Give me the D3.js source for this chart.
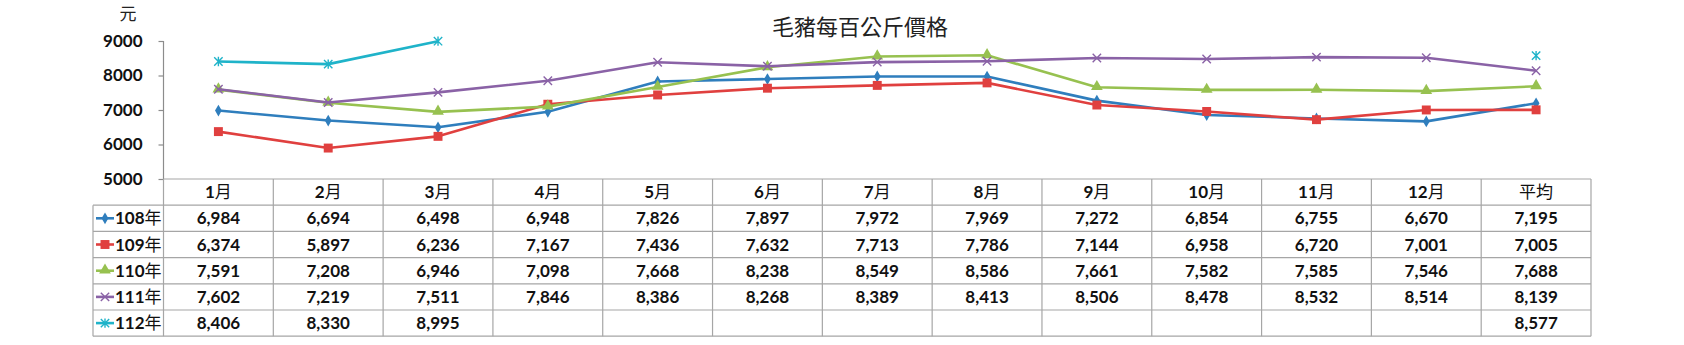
<!DOCTYPE html>
<html><head><meta charset="utf-8">
<script src="https://cdn.jsdelivr.net/npm/d3@7"></script>
<style>body{margin:0;background:#fff}</style>
</head><body>
<svg id="c" width="1684" height="345"></svg>
<script>
const categories = ["1月","2月","3月","4月","5月","6月","7月","8月","9月","10月","11月","12月","平均"];
const seriesNames = ["108年","109年","110年","111年","112年"];
const s108 = [6984,6694,6498,6948,7826,7897,7972,7969,7272,6854,6755,6670,7195];
const s109 = [6374,5897,6236,7167,7436,7632,7713,7786,7144,6958,6720,7001,7005];
const s110 = [7591,7208,6946,7098,7668,8238,8549,8586,7661,7582,7585,7546,7688];
const s111 = [7602,7219,7511,7846,8386,8268,8389,8413,8506,8478,8532,8514,8139];
const s112 = [8406,8330,8995,null,null,null,null,null,null,null,null,null,8577];
const yTicks = [5000,6000,7000,8000,9000];
const title = "毛豬每百公斤價格";
const unit = "元";

(function(){
const colors = ["#2f7ebd","#e0403f","#97c150","#8a62a6","#1fb3c9"];
const markers = ["diamond","square","triangle","x","star"];
const allSeries = [s108,s109,s110,s111,s112];

const svg = d3.select("#c");
const pLeft = 163.5, pRight = 1591, pTop = 41, pBottom = 179;
const rowH = 26.2, legendLeft = 93;
const gridColor = "#a6a6a6";
const numFont = "Lato, 'Noto Sans CJK TC', sans-serif";
const cjkFont = "'Noto Sans CJK TC', sans-serif";

const x = d3.scaleBand().domain(categories).range([pLeft, pRight]);
const y = d3.scaleLinear().domain([5000, 9000]).range([pBottom, pTop]);

svg.append("text").attr("x", 860).attr("y", 35).attr("text-anchor","middle")
  .attr("font-family", cjkFont).attr("font-size", 22).attr("fill","#222").text(title);
svg.append("text").attr("x", 128).attr("y", 20).attr("text-anchor","middle")
  .attr("font-family", cjkFont).attr("font-size", 17).attr("fill","#222").text(unit);

const yAxis = svg.append("g").attr("transform", `translate(${pLeft},0)`)
  .call(d3.axisLeft(y).tickValues(yTicks).tickSize(5).tickPadding(16).tickFormat(d3.format("d")));
yAxis.selectAll("path,line").attr("stroke", "#8c8c8c").attr("stroke-width", 1.2);
yAxis.select(".domain").attr("d", `M0,${pTop}V${pBottom}`);
yAxis.selectAll("text").attr("font-family", numFont).attr("font-weight", "bold")
  .attr("font-size", 17).attr("fill", "#111");

const tableBottom = pBottom + rowH * 6;
const g = svg.append("g").attr("stroke", gridColor).attr("stroke-width", 1.2);
g.append("line").attr("x1", pLeft).attr("x2", pRight).attr("y1", pBottom).attr("y2", pBottom);
for (let r = 1; r <= 6; r++) {
  g.append("line").attr("x1", legendLeft).attr("x2", pRight)
    .attr("y1", pBottom + r*rowH).attr("y2", pBottom + r*rowH);
}
categories.forEach(c => {
  g.append("line").attr("x1", x(c)).attr("x2", x(c)).attr("y1", pBottom).attr("y2", tableBottom);
});
g.append("line").attr("x1", pRight).attr("x2", pRight).attr("y1", pBottom).attr("y2", tableBottom);
g.append("line").attr("x1", legendLeft).attr("x2", legendLeft).attr("y1", pBottom + rowH).attr("y2", tableBottom);

function mixedText(sel, str, size) {
  const parts = str.match(/[0-9,.]+|[^0-9,.]+/g);
  parts.forEach(p => {
    const isNum = /^[0-9,.]+$/.test(p);
    sel.append("tspan").text(p)
      .attr("font-family", isNum ? numFont : cjkFont)
      .attr("font-weight", isNum ? "bold" : "normal");
  });
  sel.attr("font-size", size).attr("fill", "#111");
}

categories.forEach(c => {
  const t = svg.append("text").attr("x", x(c) + x.bandwidth()/2).attr("y", pBottom + rowH/2 + 6)
    .attr("text-anchor","middle");
  mixedText(t, c, 17);
});

function drawMarker(sel, type, color, cx, cy) {
  if (type === "diamond") {
    sel.append("path").attr("d", d3.symbol(d3.symbolDiamond, 40)()).attr("transform", `translate(${cx},${cy})`).attr("fill", color);
  } else if (type === "square") {
    sel.append("path").attr("d", d3.symbol(d3.symbolSquare, 80)()).attr("transform", `translate(${cx},${cy})`).attr("fill", color);
  } else if (type === "triangle") {
    sel.append("path").attr("d", d3.symbol(d3.symbolTriangle, 60)()).attr("transform", `translate(${cx},${cy-0.5})`).attr("fill", color);
  } else if (type === "x") {
    const s = 4.2;
    sel.append("path").attr("d", `M${cx-s},${cy-s}L${cx+s},${cy+s}M${cx-s},${cy+s}L${cx+s},${cy-s}`)
      .attr("stroke", color).attr("stroke-width", 1.4).attr("fill","none");
  } else if (type === "star") {
    const s = 4.2;
    sel.append("path").attr("d", `M${cx-s},${cy-s}L${cx+s},${cy+s}M${cx-s},${cy+s}L${cx+s},${cy-s}M${cx},${cy-s-0.5}L${cx},${cy+s+0.5}`)
      .attr("stroke", color).attr("stroke-width", 1.4).attr("fill","none");
  }
}

const cx = c => x(c) + x.bandwidth()/2;
allSeries.forEach((vals, i) => {
  const data = categories.map((c, j) => ({c, v: vals[j]}));
  const line = d3.line().defined(d => d.v != null).x(d => cx(d.c)).y(d => y(d.v));
  svg.append("path").datum(data).attr("d", line).attr("fill","none")
    .attr("stroke", colors[i]).attr("stroke-width", 2.6).attr("stroke-linejoin","round");
  const mg = svg.append("g");
  data.filter(d => d.v != null).forEach(d => drawMarker(mg, markers[i], colors[i], cx(d.c), y(d.v)));
});

const fmt = d3.format(",");
allSeries.forEach((vals, i) => {
  const ry = pBottom + rowH*(i+1);
  const mid = ry + rowH/2;
  const lg = svg.append("g");
  lg.append("line").attr("x1", 96).attr("x2", 114).attr("y1", mid).attr("y2", mid)
    .attr("stroke", colors[i]).attr("stroke-width", 2.6);
  drawMarker(lg, markers[i], colors[i], 105, mid);
  const lt = svg.append("text").attr("x", 115).attr("y", mid + 6);
  mixedText(lt, seriesNames[i], 17);
  categories.forEach((c, j) => {
    if (vals[j] == null) return;
    svg.append("text").attr("x", cx(c)).attr("y", mid + 6).attr("text-anchor","middle")
      .attr("font-family", numFont).attr("font-weight","bold").attr("font-size", 17)
      .attr("fill","#111").text(fmt(vals[j]));
  });
});
})();
</script>
</body></html>
